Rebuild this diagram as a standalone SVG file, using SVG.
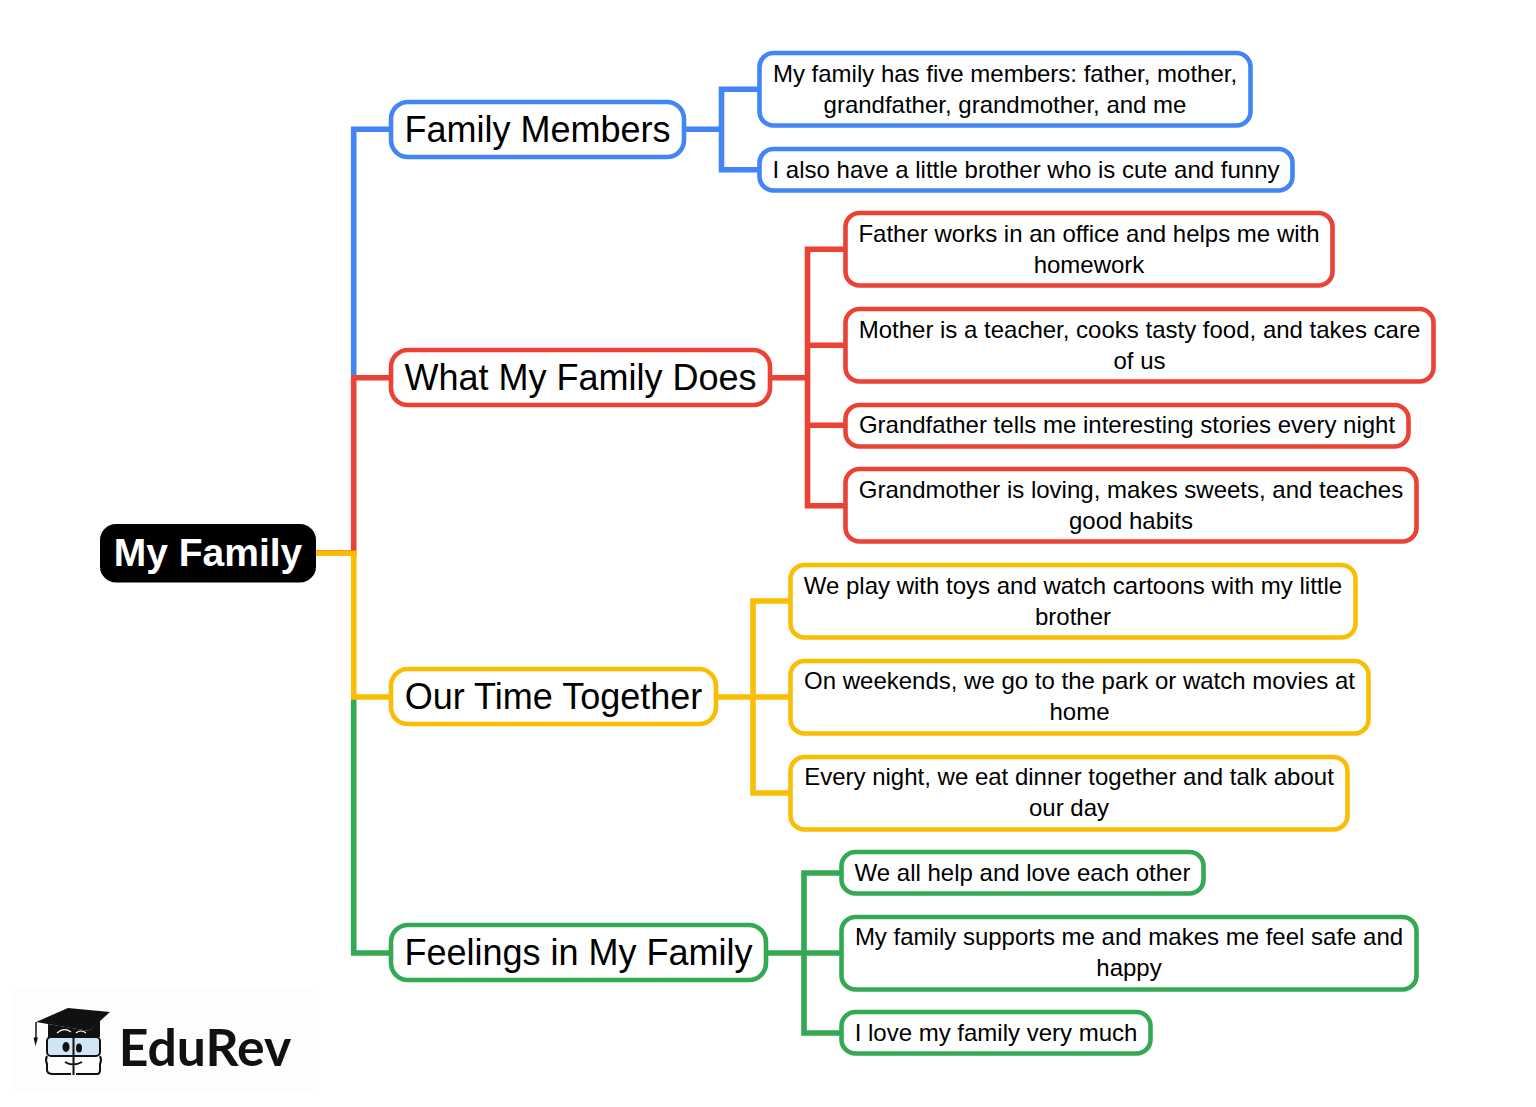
<svg xmlns="http://www.w3.org/2000/svg" width="1536" height="1107" viewBox="0 0 1536 1107">
<style>
text{font-family:"Liberation Sans",Arial,sans-serif;fill:#000;text-anchor:middle}
.box{fill:#fff;stroke-width:4.600}
.l1{font-size:36px}
.l2{font-size:24px}
.c{fill:none;stroke-width:5.600;stroke-linejoin:miter}
.blue{stroke:#4285f4}.red{stroke:#ea4335}.yellow{stroke:#fbbc04}.green{stroke:#34a853}
</style>
<rect width="1536" height="1107" fill="#fff"/>
<g id="connectors">
<path class="c blue" d="M389 129.300H353.700V378"/>
<path class="c blue" d="M684 129.300H721.500M760 89.300H721.500V169.700H760"/>
<path class="c red" d="M316 553H353.700V377.700H389"/>
<path class="c red" d="M770 377.700H807.500M846 249.300H807.500V505.700H846M807.500 345.300H846M807.500 425.300H846"/>
<path class="c green" d="M353.700 697V953H389"/>
<path class="c yellow" d="M316 553.300H353.700V697H389"/>
<path class="c yellow" d="M716 697H753M791 601H753V793H791M753 697H791"/>
<path class="c green" d="M766 953H804M842 873H804V1033H842M804 953H842"/>
</g>
<g id="root"><rect x="100" y="524" width="216" height="58.500" rx="16" fill="#000"/><text x="208" y="566" font-size="39" font-weight="700" style="fill:#fff">My Family</text></g>
<g id="family-members"><rect class="box blue" x="391" y="102" width="293" height="55" rx="17"/><text class="l1" x="537.500" y="142">Family Members</text></g>
<g id="what-my-family-does"><rect class="box red" x="391" y="350" width="379" height="55" rx="17"/><text class="l1" x="580.500" y="390">What My Family Does</text></g>
<g id="our-time-together"><rect class="box yellow" x="391" y="669" width="325" height="55" rx="17"/><text class="l1" x="553.500" y="709">Our Time Together</text></g>
<g id="feelings"><rect class="box green" x="391" y="925" width="375" height="55" rx="17"/><text class="l1" x="578.500" y="965">Feelings in My Family</text></g>
<g id="m1"><rect class="box blue" x="759.500" y="53" width="491" height="72.500" rx="14"/><text class="l2" x="1005" y="81.700">My family has five members: father, mother,</text><text class="l2" x="1005" y="112.700">grandfather, grandmother, and me</text></g>
<g id="m2"><rect class="box blue" x="759.500" y="149" width="533" height="41.500" rx="14"/><text class="l2" x="1026" y="177.700">I also have a little brother who is cute and funny</text></g>
<g id="d1"><rect class="box red" x="845.500" y="213" width="487" height="72.500" rx="14"/><text class="l2" x="1089" y="241.700">Father works in an office and helps me with</text><text class="l2" x="1089" y="272.700">homework</text></g>
<g id="d2"><rect class="box red" x="845.500" y="309" width="588" height="72.500" rx="14"/><text class="l2" x="1139.500" y="337.700">Mother is a teacher, cooks tasty food, and takes care</text><text class="l2" x="1139.500" y="368.700">of us</text></g>
<g id="d3"><rect class="box red" x="845.500" y="405" width="563" height="41.500" rx="14"/><text class="l2" x="1127" y="433.400">Grandfather tells me interesting stories every night</text></g>
<g id="d4"><rect class="box red" x="845.500" y="469" width="571" height="72.500" rx="14"/><text class="l2" x="1131" y="497.700">Grandmother is loving, makes sweets, and teaches</text><text class="l2" x="1131" y="528.700">good habits</text></g>
<g id="t1"><rect class="box yellow" x="790.500" y="565" width="565" height="72.500" rx="14"/><text class="l2" x="1073" y="593.700">We play with toys and watch cartoons with my little</text><text class="l2" x="1073" y="624.700">brother</text></g>
<g id="t2"><rect class="box yellow" x="790.500" y="661" width="578" height="72.500" rx="14"/><text class="l2" x="1079.500" y="689.400">On weekends, we go to the park or watch movies at</text><text class="l2" x="1079.500" y="720.400">home</text></g>
<g id="t3"><rect class="box yellow" x="790.500" y="757" width="557" height="72.500" rx="14"/><text class="l2" x="1069" y="785.400">Every night, we eat dinner together and talk about</text><text class="l2" x="1069" y="816.400">our day</text></g>
<g id="f1"><rect class="box green" x="841.500" y="852" width="362" height="41.500" rx="14"/><text class="l2" x="1022.500" y="880.700">We all help and love each other</text></g>
<g id="f2"><rect class="box green" x="841.500" y="917" width="575" height="72.500" rx="14"/><text class="l2" x="1129" y="945.400">My family supports me and makes me feel safe and</text><text class="l2" x="1129" y="976.400">happy</text></g>
<g id="f3"><rect class="box green" x="841.500" y="1012" width="309" height="41.500" rx="14"/><text class="l2" x="996" y="1040.700">I love my family very much</text></g>
<g id="logo">
<rect x="12" y="988" width="302" height="104" fill="#fdfdfd"/>
<path d="M36 1022L68 1008L110 1012L89 1031Z" fill="#111"/>
<path d="M48 1024V1037H100V1020L89 1031Z" fill="#111"/>
<path d="M57 1033Q64 1027 71 1032M76 1033Q81 1029 86 1033" fill="none" stroke="#fff" stroke-width="1.200"/>
<path d="M36 1022V1038" stroke="#111" stroke-width="1.500" fill="none"/>
<path d="M33.500 1037.500H38L35.500 1046Z" fill="#111"/>
<rect x="47" y="1037" width="53" height="19" rx="4" fill="#cfe6f7" stroke="#111" stroke-width="2"/>
<path d="M73.500 1037V1075M47 1056Q45 1060 47 1064V1070Q47 1074 53 1074H71M100 1056Q102 1060 100 1064V1070Q100 1074 97 1074H76M65 1062Q73 1067 82 1062" fill="none" stroke="#111" stroke-width="2"/>
<ellipse cx="66" cy="1047" rx="3.500" ry="5" fill="#111"/><ellipse cx="79" cy="1048" rx="3" ry="4.500" fill="#111"/>
<text x="205" y="1065.500" font-size="51.700" font-weight="700" style="font-family:Lato,'Liberation Sans',sans-serif;fill:#111">EduRev</text>
</g>
</svg>
